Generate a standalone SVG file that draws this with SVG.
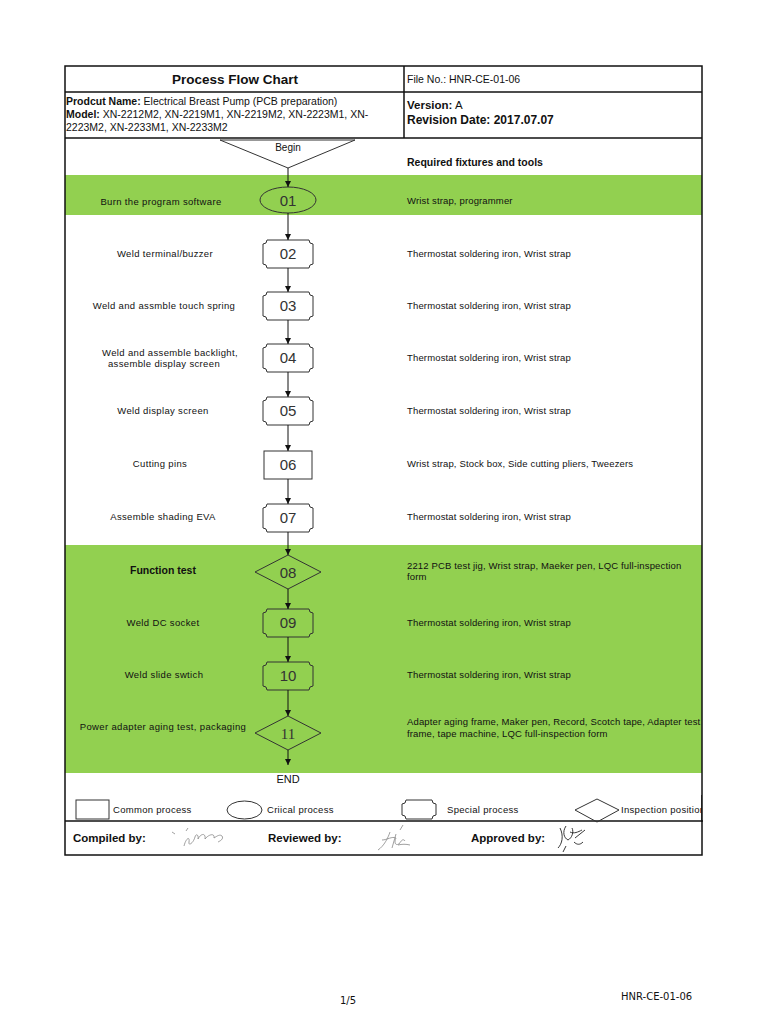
<svg xmlns="http://www.w3.org/2000/svg" width="768" height="1024" viewBox="0 0 768 1024">
<defs>
<marker id="arr" viewBox="0 0 10 10" refX="10" refY="5" markerWidth="6" markerHeight="6" markerUnits="userSpaceOnUse" orient="auto"><path d="M0,0 L10,5 L0,10 Z" fill="#111"/></marker>
<style>
text{font-family:"Liberation Sans",Arial,sans-serif;fill:#111}
.lbl{font-size:9.5px;text-anchor:middle;letter-spacing:0.35px}
.tool{font-size:9.5px;letter-spacing:0.15px}
.num{font-size:15px;text-anchor:middle;fill:#333}
.b{font-weight:bold}
.node{fill:none;stroke:#333;stroke-width:1}
.grid{stroke:#111;stroke-width:1.5;fill:none}
.con{stroke:#111;stroke-width:1;fill:none;marker-end:url(#arr)}
.leg{font-size:9.5px;letter-spacing:0.3px}
.sig{fill:none;stroke:#888;stroke-width:0.8}
</style>
</defs>
<rect width="768" height="1024" fill="#fff"/>
<g id="bands">
<rect x="65" y="175" width="637" height="40" fill="#92D050"/>
<rect x="65" y="545" width="637" height="228" fill="#92D050"/>
</g>
<g id="frame">
<rect class="grid" x="65" y="66" width="637" height="789"/>
<line class="grid" x1="65" y1="92" x2="702" y2="92"/>
<line class="grid" x1="65" y1="138" x2="702" y2="138"/>
<line class="grid" x1="404" y1="66" x2="404" y2="138"/>
<line class="grid" x1="65" y1="821" x2="702" y2="821"/>
</g>
<g id="header">
<text x="235" y="84" font-size="13.5" font-weight="bold" text-anchor="middle">Process Flow Chart</text>
<text x="407" y="83" font-size="10.5">File No.: HNR-CE-01-06</text>
<text x="66" y="105" font-size="10.5"><tspan class="b">Prodcut Name:</tspan> Electrical Breast Pump (PCB preparation)</text>
<text x="66" y="118" font-size="10.5"><tspan class="b">Model:</tspan> XN-2212M2, XN-2219M1, XN-2219M2, XN-2223M1, XN-</text>
<text x="66" y="131" font-size="10.5">2223M2, XN-2233M1, XN-2233M2</text>
<text x="407" y="109" font-size="11.5"><tspan class="b">Version:</tspan> A</text>
<text x="407" y="124" font-size="12" font-weight="bold">Revision Date: 2017.07.07</text>
<text x="407" y="166" font-size="10.5" font-weight="bold">Required fixtures and tools</text>
</g>
<g id="begin">
<path class="node" d="M220,140 L355,140 L288,168 Z" stroke="#222"/>
<text x="288" y="151" font-size="10" text-anchor="middle">Begin</text>
</g>
<g id="n01">
<ellipse class="node" cx="288" cy="200" rx="28" ry="13" stroke="#1a2a10"/>
<text class="num" x="288" y="206">01</text>
<text class="lbl" x="161" y="205">Burn the program software</text>
<text class="tool" x="407" y="204">Wrist strap, programmer</text>
</g>
<g id="n02">
<path class="node" d="M267,240 H309 A4,4 0 0 0 313,244 V264 A4,4 0 0 0 309,268 H267 A4,4 0 0 0 263,264 V244 A4,4 0 0 0 267,240 Z"/>
<text class="num" x="288" y="259">02</text>
<text class="lbl" x="165" y="257">Weld terminal/buzzer</text>
<text class="tool" x="407" y="257">Thermostat soldering iron, Wrist strap</text>
</g>
<g id="n03">
<path class="node" d="M267,292 H309 A4,4 0 0 0 313,296 V316 A4,4 0 0 0 309,320 H267 A4,4 0 0 0 263,316 V296 A4,4 0 0 0 267,292 Z"/>
<text class="num" x="288" y="311">03</text>
<text class="lbl" x="164" y="309">Weld and assmble touch spring</text>
<text class="tool" x="407" y="309">Thermostat soldering iron, Wrist strap</text>
</g>
<g id="n04">
<path class="node" d="M267,344 H309 A4,4 0 0 0 313,348 V368 A4,4 0 0 0 309,372 H267 A4,4 0 0 0 263,368 V348 A4,4 0 0 0 267,344 Z"/>
<text class="num" x="288" y="363">04</text>
<text class="lbl" x="170" y="356">Weld and assemble backlight,</text>
<text class="lbl" x="164" y="367">assemble display screen</text>
<text class="tool" x="407" y="361">Thermostat soldering iron, Wrist strap</text>
</g>
<g id="n05">
<path class="node" d="M267,397 H309 A4,4 0 0 0 313,401 V421 A4,4 0 0 0 309,425 H267 A4,4 0 0 0 263,421 V401 A4,4 0 0 0 267,397 Z"/>
<text class="num" x="288" y="416">05</text>
<text class="lbl" x="163" y="414">Weld display screen</text>
<text class="tool" x="407" y="414">Thermostat soldering iron, Wrist strap</text>
</g>
<g id="n06">
<rect class="node" x="264" y="451" width="48" height="28"/>
<text class="num" x="288" y="470">06</text>
<text class="lbl" x="160" y="467">Cutting pins</text>
<text class="tool" x="407" y="467">Wrist strap, Stock box, Side cutting pliers, Tweezers</text>
</g>
<g id="n07">
<path class="node" d="M267,504 H309 A4,4 0 0 0 313,508 V528 A4,4 0 0 0 309,532 H267 A4,4 0 0 0 263,528 V508 A4,4 0 0 0 267,504 Z"/>
<text class="num" x="288" y="523">07</text>
<text class="lbl" x="163" y="520">Assemble shading EVA</text>
<text class="tool" x="407" y="520">Thermostat soldering iron, Wrist strap</text>
</g>
<g id="n08">
<path class="node" d="M288,555 L321,572 L288,589 L255,572 Z" stroke="#1a2a10"/>
<text class="num" x="288" y="578">08</text>
<text x="163" y="574" font-size="10.5" font-weight="bold" text-anchor="middle">Function test</text>
<text class="tool" x="407" y="569">2212 PCB test jig, Wrist strap, Maeker pen,  LQC full-inspection</text>
<text class="tool" x="407" y="580">form</text>
</g>
<g id="n09">
<path class="node" d="M267,609 H309 A4,4 0 0 0 313,613 V633 A4,4 0 0 0 309,637 H267 A4,4 0 0 0 263,633 V613 A4,4 0 0 0 267,609 Z" stroke="#1a2a10"/>
<text class="num" x="288" y="628">09</text>
<text class="lbl" x="163" y="626">Weld DC socket</text>
<text class="tool" x="407" y="626">Thermostat soldering iron, Wrist strap</text>
</g>
<g id="n10">
<path class="node" d="M267,662 H309 A4,4 0 0 0 313,666 V686 A4,4 0 0 0 309,690 H267 A4,4 0 0 0 263,686 V666 A4,4 0 0 0 267,662 Z" stroke="#1a2a10"/>
<text class="num" x="288" y="681">10</text>
<text class="lbl" x="164" y="678">Weld slide swtich</text>
<text class="tool" x="407" y="678">Thermostat soldering iron, Wrist strap</text>
</g>
<g id="n11">
<path class="node" d="M288,716 L321,733 L288,750 L255,733 Z" stroke="#1a2a10"/>
<text class="num" x="288" y="739" style="font-family:'Liberation Serif',serif">11</text>
<text class="lbl" x="163" y="730">Power adapter aging test, packaging</text>
<text class="tool" x="407" y="725">Adapter aging frame, Maker pen, Record, Scotch tape, Adapter test</text>
<text class="tool" x="407" y="737">frame, tape machine, LQC full-inspection form</text>
</g>
<g id="end">
<text x="288" y="783" font-size="11" text-anchor="middle">END</text>
</g>
<g id="connectors">
<line class="con" x1="288" y1="168" x2="288" y2="187"/>
<line class="con" x1="288" y1="213" x2="288" y2="240"/>
<line class="con" x1="288" y1="268" x2="288" y2="292"/>
<line class="con" x1="288" y1="320" x2="288" y2="344"/>
<line class="con" x1="288" y1="372" x2="288" y2="397"/>
<line class="con" x1="288" y1="425" x2="288" y2="451"/>
<line class="con" x1="288" y1="479" x2="288" y2="504"/>
<line class="con" x1="288" y1="532" x2="288" y2="555"/>
<line class="con" x1="288" y1="589" x2="288" y2="609"/>
<line class="con" x1="288" y1="637" x2="288" y2="662"/>
<line class="con" x1="288" y1="690" x2="288" y2="716"/>
<line class="con" x1="288" y1="750" x2="288" y2="765"/>
</g>
<g id="legend">
<rect x="76" y="800" width="33" height="19" fill="none" stroke="#333"/>
<text class="leg" x="113" y="813">Common process</text>
<ellipse cx="244.5" cy="810" rx="17.5" ry="9" fill="none" stroke="#333"/>
<text class="leg" x="267" y="813">Criical process</text>
<path d="M406,800 H432 A4,4 0 0 0 436,804 V815 A4,4 0 0 0 432,819 H406 A4,4 0 0 0 402,815 V804 A4,4 0 0 0 406,800 Z" fill="none" stroke="#333"/>
<text class="leg" x="447" y="813">Special process</text>
<path d="M597,799 L619,810 L597,822 L575,810 Z" fill="none" stroke="#333"/>
<text class="leg" x="621" y="813">Inspection position</text>
<rect x="702" y="795" width="20" height="25" fill="#fff"/>
<line class="grid" x1="702" y1="795" x2="702" y2="822"/>
</g>
<g id="signatures">
<text x="73" y="842" font-size="11.5" font-weight="bold">Compiled by:</text>
<text x="268" y="842" font-size="11.5" font-weight="bold">Reviewed by:</text>
<text x="471" y="842" font-size="11.5" font-weight="bold">Approved by:</text>
<path class="sig" d="M172,832 l3,2 M184,846 c2,-8 6,-10 5,-4 c-1,4 4,2 6,-5 c1,-4 4,-2 3,2 c3,-6 8,-6 7,0 c4,-5 10,-6 9,-1 c3,-2 6,-4 8,-2 c2,3 -2,5 -4,6"/>
<path class="sig" d="M186,831 l2,-3"/>
<path class="sig" d="M378,850 c6,-4 10,-12 12,-18 M382,840 c5,0 10,-4 14,-2 c-2,4 -1,8 3,6 c2,-3 4,-6 6,-3 M392,848 l4,-14 M400,830 l3,-5 M398,845 c4,-1 8,-1 12,0"/>
<path d="M560,828 c4,8 2,16 -2,20 M566,826 c-4,6 -2,12 2,14 c4,-2 6,-8 4,-12 M570,832 c4,2 8,0 12,-2 M575,838 l10,-8 M574,842 c3,3 6,3 9,0 M566,846 l-3,6" fill="none" stroke="#222" stroke-width="0.9"/>
</g>
<g id="footer">
<text x="340" y="1004" font-size="10" style="font-family:'DejaVu Sans',sans-serif">1/5</text>
<text x="621" y="1000" font-size="10" style="font-family:'DejaVu Sans',sans-serif">HNR-CE-01-06</text>
</g>
</svg>
